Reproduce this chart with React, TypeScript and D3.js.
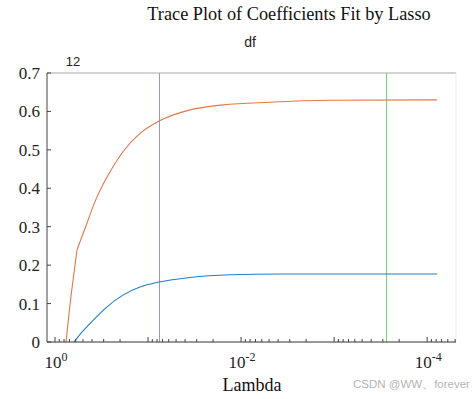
import React, { useEffect, useRef } from "react";
import * as d3 from "d3";

// values
const lambdaOrange = [0.762, 0.673, 0.58, 0.46, 0.371, 0.305, 0.256, 0.186, 0.122, 0.076, 0.0353, 0.0156, 0.00488, 0.0011, 0.000078];
const coefOrange = [0, 0.12, 0.24, 0.305, 0.366, 0.41, 0.443, 0.495, 0.543, 0.575, 0.604, 0.617, 0.624, 0.629, 0.63];
const orangeKink = 2; // index where the orange trace bends sharply

const lambdaBlue = [0.625, 0.538, 0.39, 0.29, 0.186, 0.122, 0.076, 0.0353, 0.0131, 0.0038, 0.000078];
const coefBlue = [0, 0.02, 0.056, 0.087, 0.122, 0.143, 0.156, 0.168, 0.175, 0.177, 0.177];

const refLines = [
  { lambda: 0.076, color: "#9b93ea" },
  { lambda: 0.00028, color: "#6fd96f" },
];

const yTicks = [0, 0.1, 0.2, 0.3, 0.4, 0.5, 0.6, 0.7];
const xMajor = [0, -1, -2, -3, -4];
const xLabelExps = [0, -2, -4];
const dfTicks = [{ lambda: 0.64, label: "12" }];

const W = 474;
const H = 399;
const serif = "'Liberation Serif', 'Times New Roman', serif";
const sans = "'Liberation Sans', Arial, sans-serif";

export default function App() {
  const ref = useRef<SVGSVGElement>(null);

  useEffect(() => {
    const svg = d3.select(ref.current);
    svg.selectAll("*").remove();

    const x = d3.scaleLog()
      .domain([Math.pow(10, 0.086), Math.pow(10, -4.31)])
      .range([47, 456]);
    const y = d3.scaleLinear().domain([0, 0.7]).range([342, 73]);

    const [x0, x1] = x.range();
    const [yb, yt] = y.range();

    // box (top/right light)
    svg.append("line").attr("x1", x0).attr("x2", x1).attr("y1", yt).attr("y2", yt)
      .attr("stroke", "#a8a8a8").attr("stroke-width", 1);
    svg.append("line").attr("x1", x1).attr("x2", x1).attr("y1", yt).attr("y2", yb)
      .attr("stroke", "#ededed").attr("stroke-width", 1);

    // reference lines
    refLines.forEach((r) => {
      const px = Math.round(x(r.lambda)) + 0.5;
      svg.append("line")
        .attr("x1", px).attr("x2", px)
        .attr("y1", yt).attr("y2", yb)
        .attr("stroke", r.color).attr("stroke-width", 1);
    });

    const smooth = d3.line<[number, number]>()
      .x((d) => x(d[0]))
      .y((d) => y(d[1]))
      .curve(d3.curveMonotoneX);
    const straight = d3.line<[number, number]>()
      .x((d) => x(d[0]))
      .y((d) => y(d[1]));

    const orange = lambdaOrange.map((l, i) => [l, coefOrange[i]] as [number, number]);
    svg.append("path")
      .datum(orange.slice(0, orangeKink + 1))
      .attr("fill", "none").attr("stroke", "#e4774a").attr("stroke-width", 1.1)
      .attr("d", straight);
    svg.append("path")
      .datum(orange.slice(orangeKink))
      .attr("fill", "none").attr("stroke", "#e4774a").attr("stroke-width", 1.1)
      .attr("d", smooth);

    svg.append("path")
      .datum(lambdaBlue.map((l, i) => [l, coefBlue[i]] as [number, number]))
      .attr("fill", "none").attr("stroke", "#1f7fc4").attr("stroke-width", 1.1)
      .attr("d", smooth);

    // left axis
    svg.append("line").attr("x1", x0).attr("x2", x0).attr("y1", yt).attr("y2", yb)
      .attr("stroke", "#444").attr("stroke-width", 1);
    yTicks.forEach((t) => {
      svg.append("line").attr("x1", x0).attr("x2", x0 + 4)
        .attr("y1", y(t)).attr("y2", y(t)).attr("stroke", "#444");
      svg.append("text")
        .attr("x", 40).attr("y", y(t) + 6)
        .attr("text-anchor", "end")
        .attr("font-family", serif).attr("font-size", 17).attr("fill", "#222")
        .text(String(t));
    });

    // bottom axis
    svg.append("line").attr("x1", x0).attr("x2", x1).attr("y1", yb).attr("y2", yb)
      .attr("stroke", "#333").attr("stroke-width", 1.2);
    const [dmax, dmin] = x.domain();
    xMajor.forEach((e) => {
      for (let k = 1; k <= 9; k++) {
        const v = k * Math.pow(10, e - 1);
        if (v > dmax || v < dmin) continue;
        const len = k === 1 ? 5 : 3;
        svg.append("line").attr("x1", x(v)).attr("x2", x(v))
          .attr("y1", yb).attr("y2", yb - len).attr("stroke", "#444");
      }
    });
    svg.append("line").attr("x1", x(1)).attr("x2", x(1))
      .attr("y1", yb).attr("y2", yb - 5).attr("stroke", "#444");

    xLabelExps.forEach((e) => {
      const t = svg.append("text")
        .attr("x", x(Math.pow(10, e)) + 1).attr("y", 368)
        .attr("text-anchor", "middle")
        .attr("font-family", serif).attr("font-size", 17).attr("fill", "#222");
      t.append("tspan").text("10");
      t.append("tspan").attr("dy", -7).attr("font-size", 12).text(String(e));
    });

    // top df labels
    dfTicks.forEach((d) => {
      svg.append("text")
        .attr("x", x(d.lambda)).attr("y", 66)
        .attr("text-anchor", "middle")
        .attr("font-family", sans).attr("font-size", 13).attr("fill", "#222")
        .text(d.label);
    });

    svg.append("text").attr("x", 250).attr("y", 47).attr("text-anchor", "middle")
      .attr("font-family", sans).attr("font-size", 14).attr("fill", "#222").text("df");

    svg.append("text").attr("x", 289).attr("y", 20).attr("text-anchor", "middle")
      .attr("font-family", serif).attr("font-size", 18.3).attr("fill", "#111")
      .text("Trace Plot of Coefficients Fit by Lasso");

    svg.append("text").attr("x", 252).attr("y", 391).attr("text-anchor", "middle")
      .attr("font-family", serif).attr("font-size", 18).attr("fill", "#111")
      .text("Lambda");

    svg.append("text").attr("x", 353).attr("y", 388)
      .attr("font-family", sans).attr("font-size", 11.5).attr("fill", "#b4b4b4")
      .text("CSDN @WW、forever");
  }, []);

  return (
    <svg
      ref={ref}
      width={W}
      height={H}
      style={{ position: "absolute", left: 0, top: 0, background: "#fff" }}
    />
  );
}
